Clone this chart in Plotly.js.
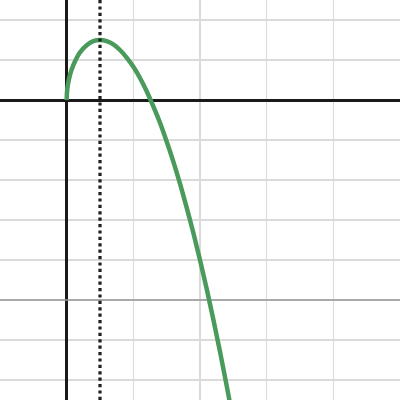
<!DOCTYPE html>
<html>
<head>
<meta charset="utf-8">
<script src="https://cdn.plot.ly/plotly-3.0.1.min.js"></script>
<style>
  html, body { margin: 0; padding: 0; background: #fff; }
  #chart { width: 400px; height: 400px; }
</style>
</head>
<body>
<div id="chart"></div>
<script>
// Các điểm của đường cong
var curveX = [0, 0.005, 0.02, 0.05, 0.1, 0.15, 0.2, 0.3, 0.4, 0.5, 0.6, 0.7, 0.8, 0.9,
              1.0, 1.1, 1.2, 1.3, 1.4, 1.5, 1.6, 1.7, 1.8, 1.9, 2.0, 2.1, 2.2, 2.3, 2.4, 2.5];
var curveY = [0, 0.2, 0.4, 0.63, 0.87, 1.05, 1.19, 1.37, 1.47, 1.5, 1.47, 1.39, 1.25, 1.06,
              0.83, 0.55, 0.22, -0.16, -0.57, -1.04, -1.54, -2.09, -2.69, -3.32, -4.0, -4.72, -5.49, -6.29, -7.14, -8.03];

// Đường chấm dọc tại đỉnh
var peakX = [0.5, 0.5];
var peakY = [-7.5, 2.5];

// Khoảng hiển thị
var xRange = [-1, 5];
var yRange = [-7.5, 2.5];
var majorY = -5;

var traces = [
    {
        x: curveX, y: curveY,
        type: 'scatter', mode: 'lines',
        line: { color: '#4a9a5c', width: 4.5, shape: 'spline' },
        hoverinfo: 'skip'
    },
    {
        x: peakX, y: peakY,
        type: 'scatter', mode: 'lines',
        line: { color: '#1e1e1e', width: 3.2, dash: 'dot' },
        hoverinfo: 'skip'
    }
];

var axisStyle = {
    dtick: 1,
    showgrid: true,
    gridcolor: '#dadada',
    gridwidth: 1.3,
    zeroline: true,
    zerolinecolor: '#1a1a1a',
    zerolinewidth: 3,
    showticklabels: false,
    ticks: '',
    showline: false,
    fixedrange: true
};

var layout = {
    width: 400, height: 400,
    margin: { l: 0, r: 0, t: 0, b: 0 },
    paper_bgcolor: '#fff',
    plot_bgcolor: '#fff',
    showlegend: false,
    xaxis: Object.assign({}, axisStyle, { range: xRange, tick0: 0 }),
    yaxis: Object.assign({}, axisStyle, { range: yRange, tick0: 0 }),
    // Đường lưới chính (đậm hơn) tại y = -5
    shapes: [{
        type: 'line', layer: 'between',
        xref: 'x', x0: xRange[0], x1: xRange[1],
        yref: 'y', y0: majorY, y1: majorY,
        line: { color: '#999999', width: 1.5 }
    }]
};

Plotly.newPlot('chart', traces, layout, { staticPlot: true });
</script>
</body>
</html>
